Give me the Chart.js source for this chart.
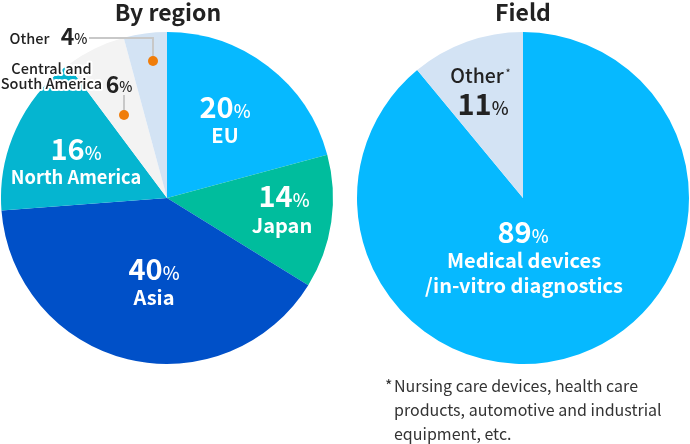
<!DOCTYPE html>
<html>
<head>
<meta charset="utf-8">
<script src="https://cdn.jsdelivr.net/npm/chart.js@4"></script>
<style>
    html, body { margin: 0; padding: 0; background: #fff; }
    #wrap { position: relative; width: 690px; height: 444px; overflow: hidden; }
    canvas { position: absolute; top: 0; }
    #region_graph { left: 0; }
    #field_graph { left: 345px; }
</style>
</head>
<body>
<div id="wrap">
    <canvas id="region_graph"></canvas>
    <canvas id="field_graph"></canvas>
</div>
<script>
const regionNames = ['EU', 'Japan', 'Asia', 'North America', 'Central and South America', 'Other'];
const regionShares = [20.8, 13, 40, 16, 6, 4.2];   // slice sizes as drawn
const regionPercents = ['20', '14', '40', '16', '6', '4'];   // as printed
const regionColors = ['#06b9ff', '#00bd9d', '#0050c8', '#05b5d0', '#f3f3f3', '#d3e3f4'];

const fieldNames = ['Medical devices /in-vitro diagnostics', 'Other'];
const fieldShares = [89, 11];
const fieldPercents = ['89', '11'];
const fieldColors = ['#06b9ff', '#d3e3f4'];

const footnoteLines = ['Nursing care devices, health care', 'products, automotive and industrial', 'equipment, etc.'];

const FONT = '"Noto Sans CJK JP", "Noto Sans", sans-serif';
const DARK = '#222';

function text(ctx, str, x, y, size, color, weight, align, halo) {
    ctx.font = (weight || 400) + ' ' + size + 'px ' + FONT;
    ctx.textAlign = align || 'center';
    ctx.textBaseline = 'middle';
    if (halo) {
        ctx.lineJoin = 'round';
        ctx.lineWidth = 4;
        ctx.strokeStyle = '#fff';
        ctx.strokeText(str, x, y);
    }
    ctx.fillStyle = color;
    ctx.fillText(str, x, y);
}

// big number followed by a small percent sign, centred on x
function percent(ctx, num, x, y, size, color) {
    const small = Math.round(size * 0.62);
    ctx.font = '700 ' + size + 'px ' + FONT;
    const w1 = ctx.measureText(num).width;
    ctx.font = '500 ' + small + 'px ' + FONT;
    const w2 = ctx.measureText('%').width;
    const left = x - (w1 + w2) / 2;
    text(ctx, num, left, y, size, color, 700, 'left');
    text(ctx, '%', left + w1, y + size * 0.13, small, color, 500, 'left');
}

function leader(ctx, points) {
    ctx.strokeStyle = '#c8c8c8';
    ctx.lineWidth = 2;
    ctx.beginPath();
    points.forEach(function (p, i) {
        if (i === 0) {
            ctx.moveTo(p[0], p[1]);
        } else {
            ctx.lineTo(p[0], p[1]);
        }
    });
    ctx.stroke();
    const end = points[points.length - 1];
    ctx.fillStyle = '#f07d0a';
    ctx.beginPath();
    ctx.arc(end[0], end[1], 5, 0, Math.PI * 2);
    ctx.fill();
}

const regionLabels = {
    id: 'regionLabels',
    afterDraw: function (chart) {
        const ctx = chart.ctx;
        ctx.save();
        text(ctx, 'By region', 168, 12, 23, DARK, 700);
        percent(ctx, regionPercents[0], 225, 107, 29, '#fff');
        text(ctx, regionNames[0], 225, 135, 20, '#fff', 700);
        percent(ctx, regionPercents[1], 284, 196, 29, '#fff');
        text(ctx, regionNames[1], 282, 225, 20, '#fff', 700);
        percent(ctx, regionPercents[2], 154, 269, 29, '#fff');
        text(ctx, regionNames[2], 154, 297, 20, '#fff', 700);
        percent(ctx, regionPercents[3], 76, 149, 29, '#fff');
        text(ctx, regionNames[3], 76, 177, 18.3, '#fff', 700);

        leader(ctx, [[89, 38], [153, 38], [153, 61]]);
        text(ctx, regionNames[5], 29.5, 38, 14.5, DARK, 500);
        percent(ctx, regionPercents[5], 74, 36, 23, DARK);

        leader(ctx, [[124, 95], [124, 115]]);
        text(ctx, 'Central and', 51.5, 68, 14.5, DARK, 500, 'center', true);
        text(ctx, 'South America', 51.5, 83, 14.5, DARK, 500, 'center', true);
        percent(ctx, regionPercents[4], 119, 84, 23, DARK);
        ctx.restore();
    }
};

const fieldLabels = {
    id: 'fieldLabels',
    afterDraw: function (chart) {
        const ctx = chart.ctx;
        const ox = -345;   // canvas starts at x=345
        ctx.save();
        text(ctx, 'Field', 523 + ox, 12, 23, DARK, 700);
        percent(ctx, fieldPercents[0], 523 + ox, 232, 29, '#fff');
        text(ctx, 'Medical devices', 524 + ox, 260, 20, '#fff', 700);
        text(ctx, '/in-vitro diagnostics', 524 + ox, 285, 20, '#fff', 700);
        text(ctx, fieldNames[1], 477 + ox, 76, 19.5, DARK, 500);
        text(ctx, '*', 508 + ox, 73, 11, DARK, 400);
        percent(ctx, fieldPercents[1], 483 + ox, 104, 29, DARK);
        text(ctx, '*', 385 + ox, 386, 16, '#333', 400, 'left');
        footnoteLines.forEach(function (line, i) {
            text(ctx, line, 394 + ox, 386 + i * 24, 16, '#333', 400, 'left');
        });
        ctx.restore();
    }
};

function makePie(id, labels, shares, colors, padding, plugin) {
    const canvas = document.getElementById(id);
    canvas.style.width = '345px';
    canvas.style.height = '444px';
    canvas.width = 345;
    canvas.height = 444;
    return new Chart(canvas, {
        type: 'pie',
        data: {
            labels: labels,
            datasets: [{
                data: shares,
                backgroundColor: colors,
                borderWidth: 0,
            }]
        },
        options: {
            responsive: false,
            animation: false,
            devicePixelRatio: 1,
            layout: { padding: padding },
            plugins: {
                legend: { display: false },
                tooltip: { enabled: false },
            }
        },
        plugins: [plugin]
    });
}

makePie('region_graph', regionNames, regionShares, regionColors, { left: 1, right: 12, top: 32, bottom: 80 }, regionLabels);
makePie('field_graph', fieldNames, fieldShares, fieldColors, { left: 12, right: 1, top: 32, bottom: 80 }, fieldLabels);
</script>
</body>
</html>
